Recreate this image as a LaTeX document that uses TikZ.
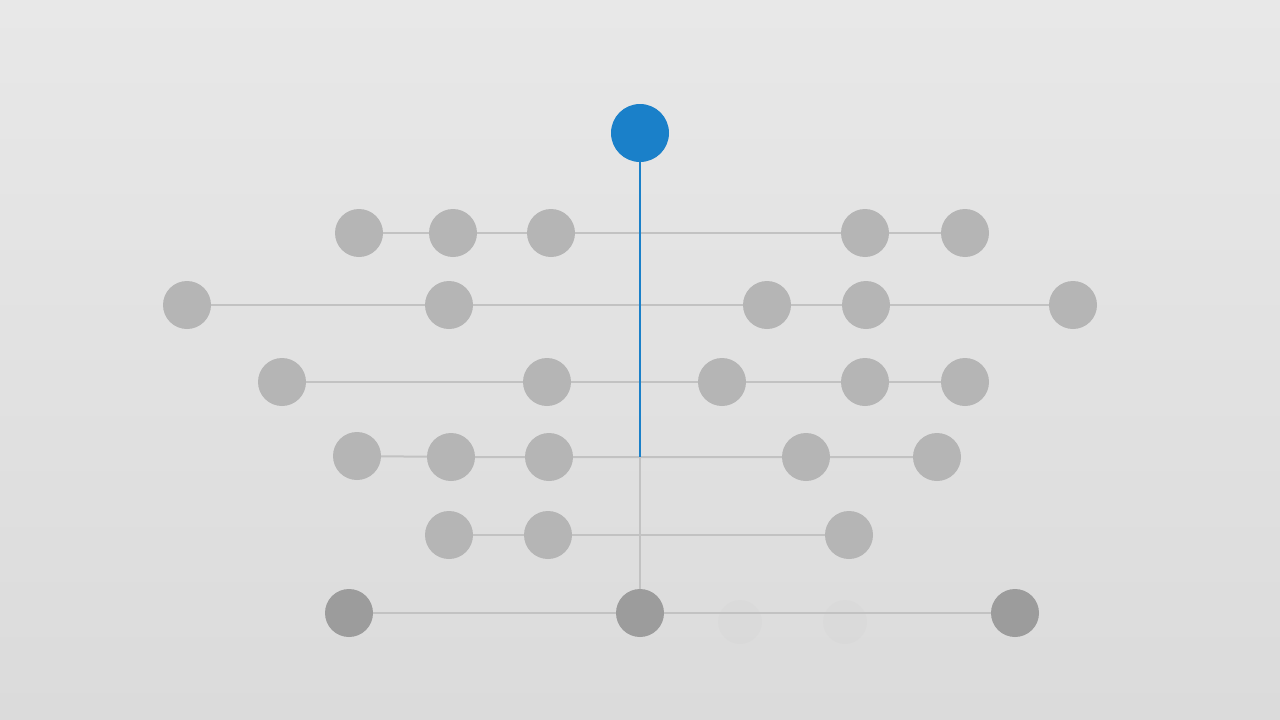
\documentclass[tikz,border=0pt]{standalone}
\begin{document}
\begin{tikzpicture}[x=1pt,y=-1pt,
  dotg/.style={circle,fill=nodegray,minimum size=48pt,inner sep=0pt},
  dotd/.style={circle,fill=nodedark,minimum size=48pt,inner sep=0pt},
  dotf/.style={circle,fill=black,fill opacity=0.012,minimum size=44pt,inner sep=0pt},
  dotb/.style={circle,fill=bluec,minimum size=58pt,inner sep=0pt},
  link/.style={draw=linegray,line width=2pt},
  blink/.style={draw=bluec,line width=2.8pt}]
\definecolor{nodegray}{HTML}{B5B5B5}
\definecolor{nodedark}{HTML}{9C9C9C}
\definecolor{linegray}{HTML}{C2C2C2}
\definecolor{bluec}{HTML}{1A80C9}
\shade[top color={rgb,255:red,232;green,232;blue,232},bottom color={rgb,255:red,219;green,219;blue,219}] (0,0) rectangle (1280,720);
\useasboundingbox (0,0) rectangle (1280,720);
% faint nodes (behind)
\node[dotf] (g1) at (740,622) {};
\node[dotf] (g2) at (845,622) {};
% row 1
\node[dotg] (a1) at (359,233) {};
\node[dotg] (a2) at (453,233) {};
\node[dotg] (a3) at (551,233) {};
\node[dotg] (a4) at (865,233) {};
\node[dotg] (a5) at (965,233) {};
% row 2
\node[dotg] (b1) at (187,305) {};
\node[dotg] (b2) at (449,305) {};
\node[dotg] (b3) at (767,305) {};
\node[dotg] (b4) at (866,305) {};
\node[dotg] (b5) at (1073,305) {};
% row 3
\node[dotg] (c1) at (282,382) {};
\node[dotg] (c2) at (547,382) {};
\node[dotg] (c3) at (722,382) {};
\node[dotg] (c4) at (865,382) {};
\node[dotg] (c5) at (965,382) {};
% row 4
\node[dotg] (d1) at (357,456) {};
\node[dotg] (d2) at (451,457) {};
\node[dotg] (d3) at (549,457) {};
\node[dotg] (d4) at (806,457) {};
\node[dotg] (d5) at (937,457) {};
% row 5
\node[dotg] (e1) at (449,535) {};
\node[dotg] (e2) at (548,535) {};
\node[dotg] (e3) at (849,535) {};
% row 6
\node[dotd] (f1) at (349,613) {};
\node[dotd] (f2) at (640,613) {};
\node[dotd] (f3) at (1015,613) {};
% top
\node[dotb] (top) at (640,133) {};
\coordinate (j) at (640,457);
% links
\path[link] (a1) -- (a2) (a2) -- (a3) (a3) -- (a4) (a4) -- (a5);
\path[link] (b1) -- (b2) (b2) -- (b3) (b3) -- (b4) (b4) -- (b5);
\path[link] (c1) -- (c2) (c2) -- (c3) (c3) -- (c4) (c4) -- (c5);
\path[link] (d1) -- (d2) (d2) -- (d3) (d3) -- (d4) (d4) -- (d5);
\path[link] (e1) -- (e2) (e2) -- (e3);
\path[link] (f1) -- (f2) (f2) -- (f3);
\path[link] (j) -- (f2);
\path[blink] (top) -- (j);
\end{tikzpicture}
\end{document}
